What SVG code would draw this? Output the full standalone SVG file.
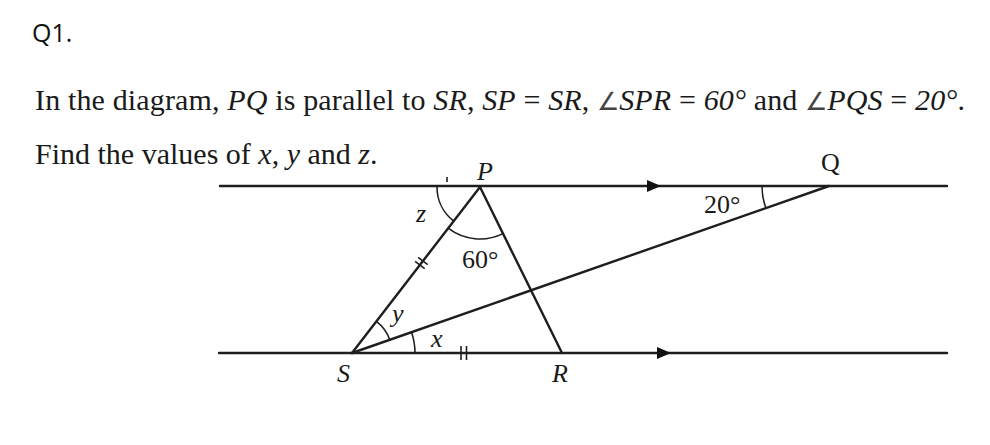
<svg xmlns="http://www.w3.org/2000/svg" width="990" height="445" viewBox="0 0 990 445">
<style>
.ln{stroke:#1e1e1e;stroke-width:2.4;fill:none;stroke-linecap:round}
.arc{stroke:#1e1e1e;stroke-width:1.6;fill:none}
.tk{stroke:#1e1e1e;stroke-width:1.6;fill:none}
.ar{fill:#111}
.body{font-family:"Liberation Serif","Times New Roman",serif;font-size:30px;fill:#1a1a1a}
.lab{font-family:"Liberation Serif","Times New Roman",serif;font-size:26px;fill:#1a1a1a}
.it{font-style:italic}
.ang{font-size:25px;fill:#444}
.hd{font-family:"Open Sans","Liberation Sans",sans-serif;font-size:25px;fill:#111}
</style>
<rect width="990" height="445" fill="#fff"/>
<g id="heading">
<text class="hd" x="32" y="42">Q1.</text>
<text class="body" x="35" y="110" textLength="930" lengthAdjust="spacing">In the diagram, <tspan class="it">PQ</tspan> is parallel to <tspan class="it">SR</tspan>, <tspan class="it">SP</tspan> = <tspan class="it">SR</tspan>, <tspan class="ang">∠</tspan><tspan class="it">SPR</tspan> = <tspan class="it">60°</tspan> and <tspan class="ang">∠</tspan><tspan class="it">PQS</tspan> = <tspan class="it">20°</tspan>.</text>
<text class="body" x="35" y="164">Find the values of <tspan class="it">x</tspan>, <tspan class="it">y</tspan> and <tspan class="it">z</tspan>.</text>
</g>
<g id="connectors">
<line class="ln" x1="220" y1="186" x2="947" y2="186"/>
<line class="ln" x1="219" y1="353" x2="947" y2="353"/>
<polygon class="ar" points="647,180 661,186 647,192"/>
<polygon class="ar" points="657,347 671,353 657,359"/>
<line class="ln" x1="480" y1="187" x2="352" y2="353"/>
<line class="ln" x1="480" y1="187" x2="562" y2="353"/>
<line class="ln" x1="352" y1="353" x2="829" y2="186"/>
</g>
<g id="angles">
<path class="arc" d="M437,187 A43,43 0 0 0 453.7,221.1"/>
<path class="arc" d="M448.2,228.2 A52,52 0 0 0 503,233.6"/>
<path class="arc" d="M376.4,321.3 A40,40 0 0 1 389.8,339.8"/>
<path class="arc" d="M411.5,332.2 A63,63 0 0 1 415,353"/>
<path class="arc" d="M762,186 A67,67 0 0 0 765.8,208.1"/>
</g>
<g id="ticks">
<line class="tk" x1="415.1" y1="261.3" x2="424.7" y2="268.7"/>
<line class="tk" x1="418.1" y1="257.3" x2="427.7" y2="264.7"/>
<line class="tk" x1="461" y1="346" x2="461" y2="360"/>
<line class="tk" x1="466.5" y1="346" x2="466.5" y2="360"/>
<line class="tk" x1="447" y1="177" x2="447" y2="182"/>
</g>
<g id="P"><text class="lab it" x="477" y="180" font-size="27">P</text></g>
<g id="Q"><text class="lab" x="821" y="171">Q</text></g>
<g id="S"><text class="lab it" x="337" y="382" font-size="28">S</text></g>
<g id="R"><text class="lab it" x="552" y="382" font-size="28">R</text></g>
<g id="labels">
<text class="lab it" x="416" y="222">z</text>
<text class="lab" x="462" y="268" font-size="27">60°</text>
<text class="lab" x="704" y="213" font-size="27">20°</text>
<text class="lab it" x="392" y="322">y</text>
<text class="lab it" x="431" y="347">x</text>
</g>
</svg>
